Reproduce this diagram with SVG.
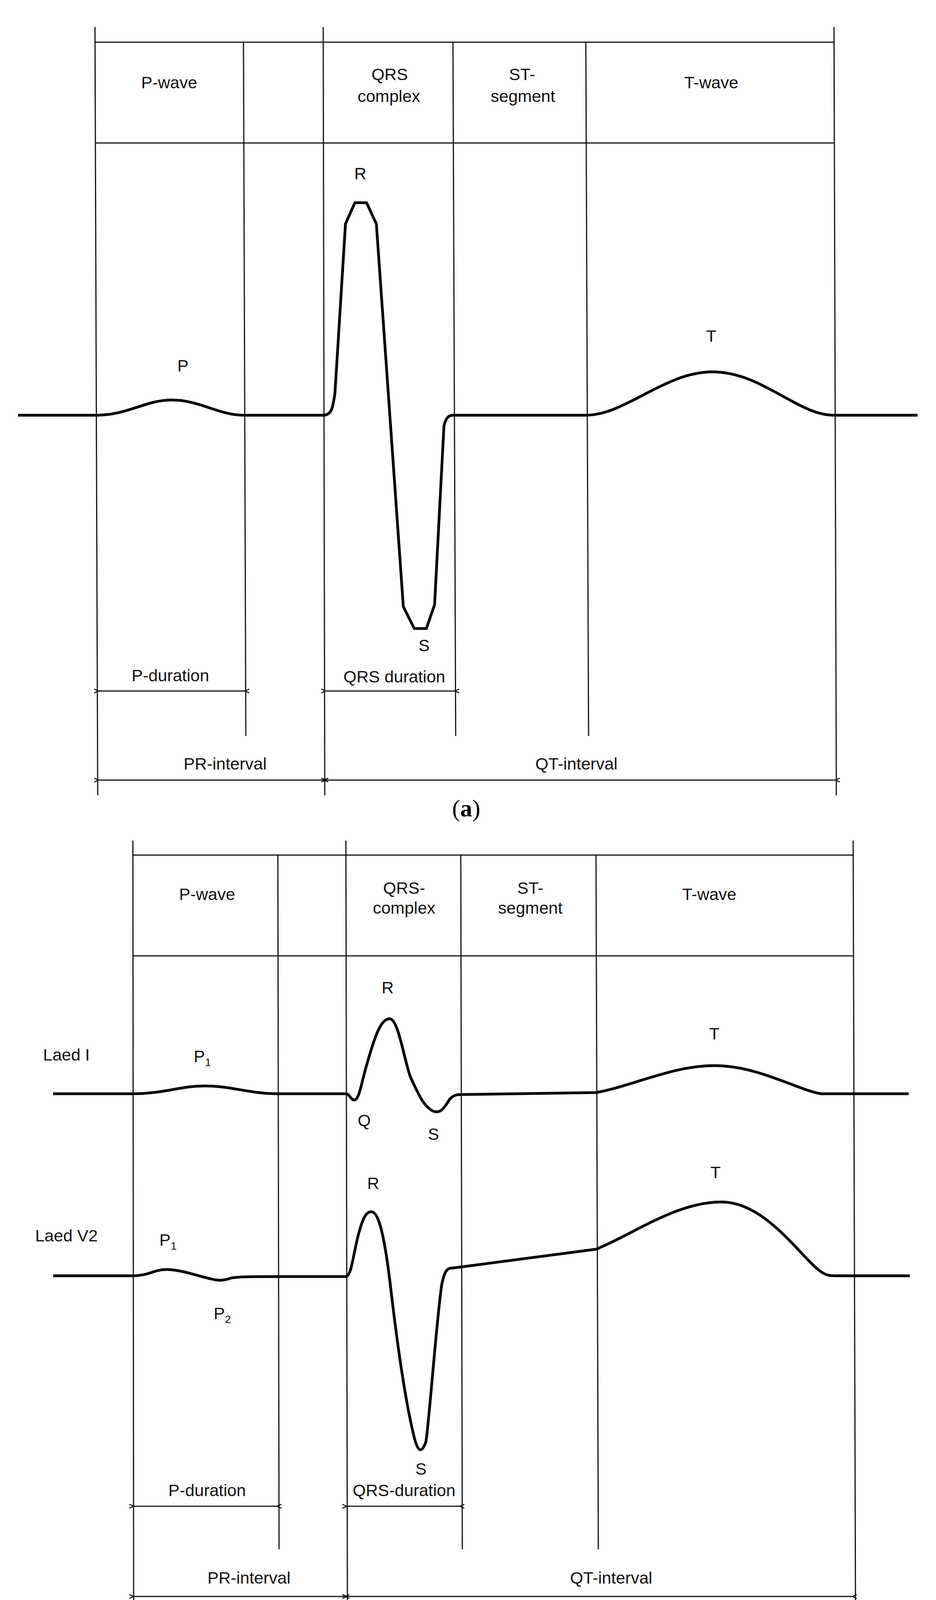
<svg xmlns="http://www.w3.org/2000/svg" width="2395" height="4222" viewBox="0 0 2395 4222">
<style>
.g{stroke:#111;stroke-width:3;fill:none}
.w{stroke:#000;stroke-width:7;fill:none;stroke-linejoin:round}
.t{font-family:"Liberation Sans",Arial,sans-serif;font-size:43px;fill:#111;text-anchor:middle}
.s{font-size:28px}
.c{font-family:"Liberation Serif","Times New Roman",serif;font-size:62px;fill:#000;text-anchor:middle}
</style>
<defs>
<marker id="a" markerWidth="14" markerHeight="14" refX="1" refY="7" orient="auto-start-reverse" markerUnits="userSpaceOnUse"><polyline points="12,2 1,7 12,12" fill="none" stroke="#111" stroke-width="2.5"/></marker>
</defs>
<g id="panel-a-grid">
<line class="g" x1="243" y1="108" x2="2134" y2="108"/>
<line class="g" x1="243" y1="366" x2="2134" y2="366"/>
<line class="g" x1="243" y1="69" x2="250" y2="2036"/>
<line class="g" x1="623" y1="108" x2="629" y2="1884"/>
<line class="g" x1="827" y1="69" x2="831" y2="2036"/>
<line class="g" x1="1159" y1="108" x2="1166" y2="1884"/>
<line class="g" x1="1499" y1="108" x2="1506" y2="1884"/>
<line class="g" x1="2134" y1="69" x2="2140" y2="2036"/>
</g>
<g id="panel-a-labels">
<text class="t" x="433" y="226">P-wave</text>
<text class="t" x="997" y="205">QRS</text>
<text class="t" x="995" y="261">complex</text>
<text class="t" x="1336" y="205">ST-</text>
<text class="t" x="1338" y="261">segment</text>
<text class="t" x="1820" y="226">T-wave</text>
<text class="t" x="922" y="459">R</text>
<text class="t" x="468" y="951">P</text>
<text class="t" x="1820" y="875">T</text>
<text class="t" x="1085" y="1667">S</text>
<text class="t" x="436" y="1744">P-duration</text>
<text class="t" x="1009" y="1747">QRS duration</text>
<text class="t" x="576" y="1970">PR-interval</text>
<text class="t" x="1475" y="1970">QT-interval</text>
<text class="c" x="1193" y="2090">(<tspan font-weight="bold">a</tspan>)</text>
</g>
<g id="panel-a-wave">
<path class="w" d="M46,1063 L243,1063 C330,1063 370,1024 440,1024 C510,1024 560,1063 623,1063 L827,1063 C850,1063 852,1040 857,1007 L884,573 L908,519 L938,519 L963,573 L1032,1553 L1060,1609 L1091,1609 L1112,1548 L1136,1090 C1142,1066 1150,1063 1160,1063 L1499,1063 C1600,1063 1700,952 1823,952 C1950,952 2040,1063 2134,1063 L2348,1063"/>
</g>
<g id="connectors">
<line class="g" x1="252" y1="1769" x2="627" y2="1769" marker-start="url(#a)" marker-end="url(#a)"/>
<line class="g" x1="833" y1="1769" x2="1164" y2="1769" marker-start="url(#a)" marker-end="url(#a)"/>
<line class="g" x1="252" y1="1997" x2="829" y2="1997" marker-start="url(#a)" marker-end="url(#a)"/>
<line class="g" x1="833" y1="1997" x2="2138" y2="1997" marker-start="url(#a)" marker-end="url(#a)"/>
<line class="g" x1="342" y1="3856" x2="709" y2="3856" marker-start="url(#a)" marker-end="url(#a)"/>
<line class="g" x1="887" y1="3856" x2="1177" y2="3856" marker-start="url(#a)" marker-end="url(#a)"/>
<line class="g" x1="342" y1="4087" x2="883" y2="4087" marker-start="url(#a)" marker-end="url(#a)"/>
<line class="g" x1="887" y1="4087" x2="2181" y2="4087" marker-start="url(#a)" marker-end="url(#a)"/>
</g>
<g id="panel-b-grid">
<line class="g" x1="340" y1="2189" x2="2183" y2="2189"/>
<line class="g" x1="340" y1="2447" x2="2183" y2="2447"/>
<line class="g" x1="340" y1="2152" x2="342" y2="4117"/>
<line class="g" x1="711" y1="2189" x2="714" y2="3966"/>
<line class="g" x1="885" y1="2152" x2="889" y2="4117"/>
<line class="g" x1="1179" y1="2189" x2="1183" y2="3966"/>
<line class="g" x1="1525" y1="2189" x2="1531" y2="3966"/>
<line class="g" x1="2183" y1="2152" x2="2189" y2="4117"/>
</g>
<g id="panel-b-labels">
<text class="t" x="530" y="2304">P-wave</text>
<text class="t" x="1034" y="2288">QRS-</text>
<text class="t" x="1034" y="2339">complex</text>
<text class="t" x="1357" y="2288">ST-</text>
<text class="t" x="1357" y="2339">segment</text>
<text class="t" x="1815" y="2304">T-wave</text>
<text class="t" x="170" y="2715">Laed I</text>
<text class="t" x="170" y="3178">Laed V2</text>
<text class="t" x="518" y="2719">P<tspan class="s" dy="10">1</tspan></text>
<text class="t" x="430" y="3189">P<tspan class="s" dy="10">1</tspan></text>
<text class="t" x="569" y="3377">P<tspan class="s" dy="10">2</tspan></text>
<text class="t" x="992" y="2543">R</text>
<text class="t" x="932" y="2883">Q</text>
<text class="t" x="1109" y="2918">S</text>
<text class="t" x="1828" y="2661">T</text>
<text class="t" x="955" y="3044">R</text>
<text class="t" x="1831" y="3016">T</text>
<text class="t" x="1077" y="3775">S</text>
<text class="t" x="530" y="3830">P-duration</text>
<text class="t" x="1034" y="3830">QRS-duration</text>
<text class="t" x="637" y="4054">PR-interval</text>
<text class="t" x="1564" y="4054">QT-interval</text>
<text class="c" x="1193" y="4196">(<tspan font-weight="bold">b</tspan>)</text>
</g>
<g id="panel-b-lead-I">
<path class="w" d="M136,2800 L340,2800 C420,2800 460,2780 525,2780 C590,2780 640,2800 711,2800 L885,2800 C895,2800 898,2818 908,2816 C920,2812 925,2770 940,2720 C960,2650 975,2608 997,2608 C1020,2608 1035,2720 1051,2759 C1070,2800 1085,2835 1110,2845 C1130,2852 1140,2830 1150,2815 C1160,2803 1170,2802 1179,2802 L1525,2797 C1620,2780 1720,2728 1828,2728 C1940,2728 2040,2790 2100,2800 L2325,2800"/>
</g>
<g id="panel-b-lead-V2">
<path class="w" d="M136,3266 L340,3266 C380,3266 395,3250 425,3250 C460,3250 490,3262 540,3274 C560,3280 575,3278 590,3272 C610,3268 650,3268 711,3268 L885,3268 C900,3268 905,3200 920,3150 C930,3115 938,3102 950,3102 C970,3102 985,3170 1000,3300 C1020,3470 1040,3600 1060,3680 C1070,3720 1080,3720 1090,3690 C1100,3620 1115,3400 1130,3290 C1138,3250 1145,3246 1160,3246 L1525,3198 C1620,3160 1730,3077 1846,3077 C1960,3077 2050,3220 2100,3255 C2115,3266 2125,3266 2140,3266 L2328,3266"/>
</g>
</svg>
